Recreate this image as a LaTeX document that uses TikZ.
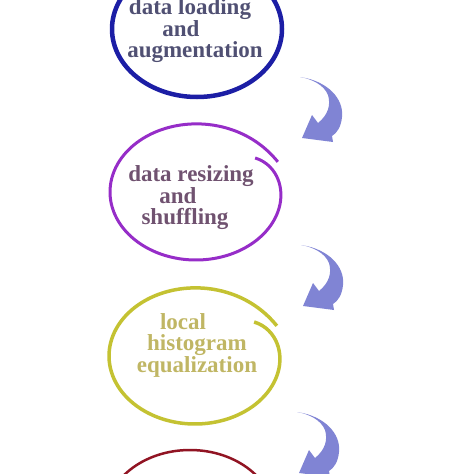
\documentclass[tikz,border=0pt]{standalone}
\usepackage{fontspec}
\setmainfont{Liberation Serif}
\usetikzlibrary{shapes.geometric}
\definecolor{blueline}{RGB}{28,30,165}
\definecolor{purpleline}{RGB}{150,45,200}
\definecolor{yellowline}{RGB}{196,194,50}
\definecolor{redline}{RGB}{145,20,35}
\definecolor{bluetext}{RGB}{80,80,115}
\definecolor{purpletext}{RGB}{112,82,112}
\definecolor{yellowtext}{RGB}{192,182,100}
\definecolor{flowfill}{RGB}{128,132,212}
\tikzstyle{stage}=[align=center, inner sep=0pt, font=\bfseries\fontsize{23}{21.5}\selectfont]
\tikzstyle{flow}=[fill=flowfill]
\newcommand{\stage}{\node[stage]}
% hand drawn ring, starts inside at the upper right and ends outside past the start
\newcommand{\ring}[2]{\draw[#2, shift={(#1)}] plot[domain=-335:36, samples=120, smooth]
  ({86*(1-0.15*exp(-(36-\x)/15)+0.05*exp((-335-\x)/20))*cos(\x)},
   {-68*(1-0.15*exp(-(36-\x)/15)+0.05*exp((-335-\x)/20))*sin(\x)});}
\newcommand{\bend}[1]{\fill[flow, shift={(#1)}] (0,0) .. controls (28,4) and (44,22) .. (42,40)
  .. controls (41,50) and (37,56) .. (32,59) -- (33,65) -- (2,61) -- (12,38) -- (18,46)
  .. controls (28,38) and (31,28) .. (28,18) .. controls (24,8) and (12,2) .. cycle;}

\begin{document}
\begin{tikzpicture}[x=1pt, y=-1pt]
\useasboundingbox (0,0) rectangle (474,474);
\coordinate (r1) at (197,29);
\coordinate (r2) at (196,192);
\coordinate (r3) at (195,356);
\coordinate (r4) at (190,518);
\draw[blueline, line width=4.5pt] (r1) ellipse [x radius=85, y radius=68];
\ring{r2}{purpleline, line width=3pt}
\ring{r3}{yellowline, line width=3.5pt}
\draw[redline, line width=2.5pt] (r4) ellipse [x radius=85, y radius=68];
\stage[text=bluetext] (load) at (190,31) {data loading\\and\rule{18pt}{0pt}\\\hspace*{10pt}augmentation};
\stage[text=purpletext] (resize) at (191,198) {data resizing\\and\rule{26pt}{0pt}\\shuffling\hspace*{12pt}};
\stage[text=yellowtext] (equal) at (197,345) {local\hspace*{28pt}\\histogram\\equalization};
\coordinate (a1) at (300,77);
\coordinate (a2) at (301,245);
\coordinate (a3) at (297,412);
\bend{a1}
\bend{a2}
\bend{a3}
\end{tikzpicture}
\end{document}
